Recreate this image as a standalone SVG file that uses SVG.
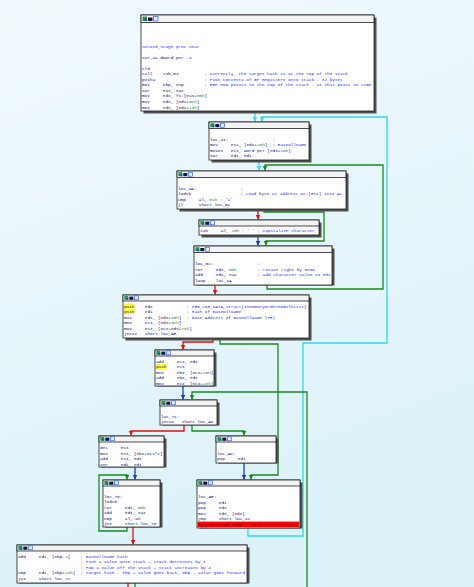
<svg xmlns="http://www.w3.org/2000/svg" width="474" height="587" viewBox="0 0 474 587" xml:space="preserve">
<defs>
<linearGradient id="bg" x1="0" y1="0" x2="0.3" y2="1">
<stop offset="0" stop-color="#f1f9fd"/>
<stop offset="1" stop-color="#dcf2f9"/>
</linearGradient>
<marker id="aC" markerUnits="userSpaceOnUse" markerWidth="6" markerHeight="6" refX="5" refY="2.5" orient="auto"><path d="M0,0 L5,2.5 L0,5 z" fill="#36d8e6"/></marker>
<marker id="aG" markerUnits="userSpaceOnUse" markerWidth="6" markerHeight="6" refX="5" refY="2.5" orient="auto"><path d="M0,0 L5,2.5 L0,5 z" fill="#1a8a1a"/></marker>
<marker id="aR" markerUnits="userSpaceOnUse" markerWidth="6" markerHeight="6" refX="5" refY="2.5" orient="auto"><path d="M0,0 L5,2.5 L0,5 z" fill="#e01010"/></marker>
<marker id="aB" markerUnits="userSpaceOnUse" markerWidth="6" markerHeight="6" refX="5" refY="2.5" orient="auto"><path d="M0,0 L5,2.5 L0,5 z" fill="#1838e0"/></marker>
</defs>
<style>
.sh{fill:#505050}
.bd{fill:#ffffff;stroke:#202020;stroke-width:0.8}
.hd{fill:#f3f3f3;stroke:#202020;stroke-width:0.8}
.i1{fill:#2a9a4a}
.i1b{fill:#2050c8}
.i2{fill:#101848}
.i3{fill:#dfe8ff;stroke:#2050d0;stroke-width:0.6}
text{font-family:"Liberation Mono","DejaVu Sans Mono",monospace;font-size:4.35px;fill:#10107a;white-space:pre}
.cm{fill:#2a2aff}
.n{fill:#108040}
.e{fill:none;stroke-width:1.3}
.ec{stroke:#36d8e6}
.eg{stroke:#1a8a1a}
.er{stroke:#e01010}
.eb{stroke:#1838e0}
.hl{fill:#ffff30}
.rl{fill:#ff0000}
</style>
<rect x="0" y="0" width="474" height="587" fill="url(#bg)"/>

<g id="edges">
<polyline class="e ec" points="255,111 255,121.5" marker-end="url(#aC)"/>
<polyline class="e ec" points="248,529 248,536 303,536 303,343 387,343 387,117 262,117 262,121.5" marker-end="url(#aC)"/>
<polyline class="e ec" points="259,160 259,170.5" marker-end="url(#aC)"/>
<polyline class="e eg" points="267,285 267,289 383,289 383,165 265,165 265,170.5" marker-end="url(#aG)"/>
<polyline class="e er" points="258,209 258,219.5" marker-end="url(#aR)"/>
<polyline class="e eg" points="264,209 264,212 324,212 324,241 266,241 266,245.5" marker-end="url(#aG)"/>
<polyline class="e eb" points="258,235 258,245.5" marker-end="url(#aB)"/>
<polyline class="e er" points="215,285 215,294.5" marker-end="url(#aR)"/>
<polyline class="e er" points="213,338 213,342 183,342 183,349.5" marker-end="url(#aR)"/>
<polyline class="e eg" points="220,338 220,344 278,344 278,475 251,475 251,479.5" marker-end="url(#aG)"/>
<polyline class="e eb" points="183,386 183,399.5" marker-end="url(#aB)"/>
<polyline class="e eg" points="307,587 307,392 192,392 192,399.5" marker-end="url(#aG)"/>
<polyline class="e er" points="184,425 184,431 131,431 131,435.5" marker-end="url(#aR)"/>
<polyline class="e eg" points="192,425 192,431 244,431 244,435.5" marker-end="url(#aG)"/>
<polyline class="e eb" points="135,467 135,479.5" marker-end="url(#aB)"/>
<polyline class="e eg" points="127,527 127,531 99,531 99,475 127,475 127,479.5" marker-end="url(#aG)"/>
<polyline class="e er" points="133,527 133,544.5" marker-end="url(#aR)"/>
<polyline class="e eb" points="244,463 244,479.5" marker-end="url(#aB)"/>
<polyline class="e er" points="128,583 128,587"/>
<polyline class="e eg" points="135,583 135,587"/>
</g>

<g id="blk_start">
<rect class="sh" x="143.5" y="17.5" width="233" height="96"/>
<rect class="bd" x="141" y="15" width="233" height="96"/>
<rect class="hd" x="141" y="15" width="233" height="7.5"/>
<rect class="i1" x="142.5" y="16.5" width="4.5" height="4.5"/><rect class="i1b" x="144.5" y="18.5" width="2.5" height="2.5"/>
<rect class="i2" x="148" y="17.5" width="4.5" height="3.5"/>
<rect class="i3" x="153.5" y="16.5" width="4.5" height="4.5"/>
<text x="142" y="47.5"><tspan class="cm">Second_Stage proc near</tspan></text>
<text x="142" y="58.6">var_4= dword ptr -4</text>
<text x="142" y="69.7">cld</text>
<text x="142" y="75.25">call    sub_B4          <tspan class="cm">; Currently, the target hash is at the top of the stack</tspan></text>
<text x="142" y="80.8">pusha                   <tspan class="cm">; Push contents of GP Registers onto stack - 32 bytes</tspan></text>
<text x="142" y="86.35">mov     ebp, esp        <tspan class="cm">; EBP now points to the top of the stack - at this point in time</tspan></text>
<text x="142" y="91.9">xor     eax, eax</text>
<text x="142" y="97.45">mov     edx, fs:[eax+<tspan class="n">30h</tspan>]</text>
<text x="142" y="103">mov     edx, [edx+<tspan class="n">0Ch</tspan>]</text>
<text x="142" y="108.55">mov     edx, [edx+<tspan class="n">14h</tspan>]</text>
</g>

<g id="blk_loc_41">
<rect class="sh" x="211.5" y="124.5" width="100" height="38"/>
<rect class="bd" x="209" y="122" width="100" height="38"/>
<rect class="hd" x="209" y="122" width="100" height="6.5"/>
<rect class="i1" x="210.3" y="123.2" width="4" height="4"/><rect class="i1b" x="212.3" y="125.2" width="2" height="2"/>
<rect class="i2" x="215.3" y="124" width="4" height="3.2"/>
<rect class="i3" x="220.3" y="123.2" width="4" height="4"/>
<text x="210" y="140.5">loc_41:                 <tspan class="cm">;</tspan></text>
<text x="210" y="146">mov     esi, [edx+<tspan class="n">28h</tspan>]  <tspan class="cm">; BaseDllName</tspan></text>
<text x="210" y="151.5">movzx   ecx, word ptr [edx+<tspan class="n">26h</tspan>]</text>
<text x="210" y="157">xor     edi, edi</text>
</g>

<g id="blk_loc_4A">
<rect class="sh" x="179.5" y="173.5" width="169" height="38"/>
<rect class="bd" x="177" y="171" width="169" height="38"/>
<rect class="hd" x="177" y="171" width="169" height="6.5"/>
<rect class="i1" x="178.3" y="172.2" width="4" height="4"/><rect class="i1b" x="180.3" y="174.2" width="2" height="2"/>
<rect class="i2" x="183.3" y="173" width="4" height="3.2"/>
<rect class="i3" x="188.3" y="172.2" width="4" height="4"/>
<text x="178" y="189.5">loc_4A:                 <tspan class="cm">;</tspan></text>
<text x="178" y="195">lodsb                   <tspan class="cm">; Load byte at address DS:[ESI] into AL</tspan></text>
<text x="178" y="200.5">cmp     al, <tspan class="n">61h</tspan> <tspan class="cm">; 'a'</tspan></text>
<text x="178" y="206">jl      short loc_51</text>
</g>

<g id="blk_capitalize">
<rect class="sh" x="201.5" y="222.5" width="120" height="15"/>
<rect class="bd" x="199" y="220" width="120" height="15"/>
<rect class="hd" x="199" y="220" width="120" height="6"/>
<rect class="i1" x="200.3" y="220.8" width="4" height="4"/><rect class="i1b" x="202.3" y="222.8" width="2" height="2"/>
<rect class="i2" x="205.3" y="221.6" width="4" height="3.2"/>
<rect class="i3" x="210.3" y="220.8" width="4" height="4"/>
<text x="200" y="232.3">sub     al, <tspan class="n">20h</tspan> <tspan class="cm">; ' ' ; Capitalize character</tspan></text>
</g>

<g id="blk_loc_51">
<rect class="sh" x="196.5" y="248.5" width="138" height="37"/>
<rect class="bd" x="194" y="246" width="138" height="39"/>
<rect class="hd" x="194" y="246" width="138" height="6.5"/>
<rect class="i1" x="195.3" y="247.2" width="4" height="4"/><rect class="i1b" x="197.3" y="249.2" width="2" height="2"/>
<rect class="i2" x="200.3" y="248" width="4" height="3.2"/>
<rect class="i3" x="205.3" y="247.2" width="4" height="4"/>
<text x="195" y="265">loc_51:                 <tspan class="cm">;</tspan></text>
<text x="195" y="270.5">ror     edi, <tspan class="n">0Dh</tspan>        <tspan class="cm">; rotate right by 0x0D</tspan></text>
<text x="195" y="276">add     edi, eax        <tspan class="cm">; add character value to edi</tspan></text>
<text x="195" y="281.5">loop    loc_4A</text>
</g>

<g id="blk_peb">
<rect class="sh" x="125.5" y="297.5" width="186" height="43"/>
<rect class="bd" x="123" y="295" width="186" height="43"/>
<rect class="hd" x="123" y="295" width="186" height="6"/>
<rect class="i1" x="124.3" y="295.8" width="4" height="4"/><rect class="i1b" x="126.3" y="297.8" width="2" height="2"/>
<rect class="i2" x="129.3" y="296.6" width="4" height="3.2"/>
<rect class="i3" x="134.3" y="295.8" width="4" height="4"/>
<rect class="hl" x="124" y="303.3" width="10.5" height="5.4"/>
<rect class="hl" x="124" y="308.8" width="10.5" height="5.4"/>
<text x="124" y="307.5">push    edx             <tspan class="cm">; PEB_LDR_DATA_Struct[InMemoryOrderModuleList]</tspan></text>
<text x="124" y="313">push    edi             <tspan class="cm">; Hash of BaseDllName</tspan></text>
<text x="124" y="318.5">mov     edx, [edx+<tspan class="n">10h</tspan>]  <tspan class="cm">; Base Address of BaseDllName (PE)</tspan></text>
<text x="124" y="324">mov     ecx, [edx+<tspan class="n">3Ch</tspan>]</text>
<text x="124" y="329.5">mov     ecx, [ecx+edx+<tspan class="n">78h</tspan>]</text>
<text x="124" y="335">jecxz   short loc_AE</text>
</g>

<g id="blk_exports">
<rect class="sh" x="157.5" y="352.5" width="59" height="34"/>
<rect class="bd" x="155" y="350" width="59" height="36"/>
<rect class="hd" x="155" y="350" width="59" height="6"/>
<rect class="i1" x="156.3" y="350.8" width="4" height="4"/><rect class="i1b" x="158.3" y="352.8" width="2" height="2"/>
<rect class="i2" x="161.3" y="351.6" width="4" height="3.2"/>
<rect class="i3" x="166.3" y="350.8" width="4" height="4"/>
<rect class="hl" x="156" y="364" width="10.5" height="5.4"/>
<text x="156" y="362.5">add     ecx, edx</text>
<text x="156" y="368">push    ecx</text>
<text x="156" y="373.5">mov     ebx, [ecx+<tspan class="n">20h</tspan>]</text>
<text x="156" y="379">add     ebx, edx</text>
<text x="156" y="384.5">mov     ecx, [ecx+<tspan class="n">18h</tspan>]</text>
</g>

<g id="blk_loc_71">
<rect class="sh" x="162.5" y="402.5" width="57" height="23"/>
<rect class="bd" x="160" y="400" width="57" height="25"/>
<rect class="hd" x="160" y="400" width="57" height="6"/>
<rect class="i1" x="161.3" y="400.8" width="4" height="4"/><rect class="i1b" x="163.3" y="402.8" width="2" height="2"/>
<rect class="i2" x="166.3" y="401.6" width="4" height="3.2"/>
<rect class="i3" x="171.3" y="400.8" width="4" height="4"/>
<text x="161" y="417.5">loc_71:</text>
<text x="161" y="423">jecxz   short loc_AD</text>
</g>

<g id="blk_next_name">
<rect class="sh" x="101.5" y="438.5" width="65" height="29"/>
<rect class="bd" x="99" y="436" width="65" height="31"/>
<rect class="hd" x="99" y="436" width="65" height="6"/>
<rect class="i1" x="100.3" y="436.8" width="4" height="4"/><rect class="i1b" x="102.3" y="438.8" width="2" height="2"/>
<rect class="i2" x="105.3" y="437.6" width="4" height="3.2"/>
<rect class="i3" x="110.3" y="436.8" width="4" height="4"/>
<text x="100" y="449">dec     ecx</text>
<text x="100" y="454.5">mov     esi, [ebx+ecx*<tspan class="n">4</tspan>]</text>
<text x="100" y="460">add     esi, edx</text>
<text x="100" y="465.5">xor     edi, edi</text>
</g>

<g id="blk_loc_AD">
<rect class="sh" x="218.5" y="438.5" width="60" height="25"/>
<rect class="bd" x="216" y="436" width="60" height="27"/>
<rect class="hd" x="216" y="436" width="60" height="6"/>
<rect class="i1" x="217.3" y="436.8" width="4" height="4"/><rect class="i1b" x="219.3" y="438.8" width="2" height="2"/>
<rect class="i2" x="222.3" y="437.6" width="4" height="3.2"/>
<rect class="i3" x="227.3" y="436.8" width="4" height="4"/>
<text x="217" y="454.5">loc_AD:</text>
<text x="217" y="460">pop     edi</text>
</g>

<g id="blk_loc_78">
<rect class="sh" x="105.5" y="482.5" width="57" height="45"/>
<rect class="bd" x="103" y="480" width="57" height="47"/>
<rect class="hd" x="103" y="480" width="57" height="6"/>
<rect class="i1" x="104.3" y="480.8" width="4" height="4"/><rect class="i1b" x="106.3" y="482.8" width="2" height="2"/>
<rect class="i2" x="109.3" y="481.6" width="4" height="3.2"/>
<rect class="i3" x="114.3" y="480.8" width="4" height="4"/>
<text x="104" y="497.5">loc_78:</text>
<text x="104" y="503">lodsb</text>
<text x="104" y="508.5">ror     edi, <tspan class="n">0Dh</tspan></text>
<text x="104" y="514">add     edi, eax</text>
<text x="104" y="519.5">cmp     al, ah</text>
<text x="104" y="525">jnz     short loc_78</text>
</g>

<g id="blk_loc_AE">
<rect class="sh" x="199.5" y="482.5" width="103" height="46"/>
<rect class="bd" x="197" y="480" width="103" height="48"/>
<rect class="hd" x="197" y="480" width="103" height="6"/>
<rect class="i1" x="198.3" y="480.8" width="4" height="4"/><rect class="i1b" x="200.3" y="482.8" width="2" height="2"/>
<rect class="i2" x="203.3" y="481.6" width="4" height="3.2"/>
<rect class="i3" x="208.3" y="480.8" width="4" height="4"/>
<rect class="rl" x="197.5" y="521.6" width="102" height="5.6"/>
<text x="198" y="498">loc_AE:</text>
<text x="198" y="503.5">pop     edi</text>
<text x="198" y="509">pop     edx</text>
<text x="198" y="514.5">mov     edx, [edx]</text>
<text x="198" y="520">jmp     short loc_41</text>
<text x="198" y="525.5" style="fill:#600000">Second_Stage endp ; sp-analysis failed</text>
</g>

<g id="blk_compare">
<rect class="sh" x="19.5" y="547.5" width="230" height="36"/>
<rect class="bd" x="17" y="545" width="230" height="38"/>
<rect class="hd" x="17" y="545" width="230" height="6"/>
<rect class="i1" x="18.3" y="545.8" width="4" height="4"/><rect class="i1b" x="20.3" y="547.8" width="2" height="2"/>
<rect class="i2" x="23.3" y="546.6" width="4" height="3.2"/>
<rect class="i3" x="28.3" y="545.8" width="4" height="4"/>
<text x="18" y="557.5">add     edi, [ebp-<tspan class="n">4</tspan>]    <tspan class="cm">; BaseDllName hash</tspan></text>
<text x="18" y="563">                        <tspan class="cm">; Push a value onto stack → stack decreases by 4</tspan></text>
<text x="18" y="568.5">                        <tspan class="cm">; Pop a value off the stack → stack increases by 4</tspan></text>
<text x="18" y="574">cmp     edi, [ebp+<tspan class="n">24h</tspan>]  <tspan class="cm">; Target hash - ebp + value goes back, ebp - value goes forward</tspan></text>
<text x="18" y="579.5">jnz     short loc_71</text>
</g>
</svg>
